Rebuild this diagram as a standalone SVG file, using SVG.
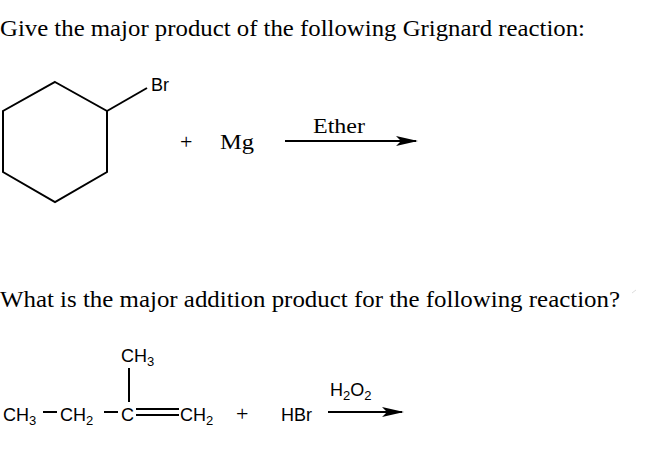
<svg xmlns="http://www.w3.org/2000/svg" width="652" height="475" viewBox="0 0 652 475">
<style>
.q{font-family:"Liberation Serif",serif;font-size:23px;fill:#000}
.s{font-family:"Liberation Sans",sans-serif;font-size:18px;fill:#000}
.r{font-family:"Liberation Serif",serif;font-size:22px;fill:#000}
.sub{font-size:13px}
line,polygon.b{stroke:#000;stroke-width:2;fill:none}
</style>
<defs><marker id="ah" markerWidth="22" markerHeight="10" refX="20" refY="5" orient="auto" markerUnits="userSpaceOnUse"><path d="M0,0 L22,5 L0,10 L5,5 Z" fill="#000"/></marker></defs>
<rect width="652" height="475" fill="#fff"/>
<text class="q" x="0" y="36" textLength="585" lengthAdjust="spacingAndGlyphs">Give the major product of the following Grignard reaction:</text>
<g id="cyclohexylbromide">
<polygon class="b" points="55,82 107,111 107,172 55,202 3,172 3,111"/>
<line x1="107" y1="111" x2="147" y2="88"/>
<text class="s" x="151" y="91">Br</text>
</g>
<g id="mg"><text class="r" x="180" y="149">+</text><text class="r" x="220" y="149" textLength="34" lengthAdjust="spacingAndGlyphs">Mg</text></g>
<g id="connectors">
<line x1="285" y1="141" x2="416" y2="141" marker-end="url(#ah)"/>
<line x1="328" y1="412" x2="402" y2="412" marker-end="url(#ah)"/>
</g>
<text class="r" x="313" y="133" textLength="52" lengthAdjust="spacingAndGlyphs">Ether</text>
<text class="q" x="0" y="307" textLength="620" lengthAdjust="spacingAndGlyphs">What is the major addition product for the following reaction?</text>
<line x1="632" y1="293" x2="636" y2="290" style="stroke:#ddd;stroke-width:1"/>
<g id="alkene">
<text class="s" x="121" y="362">CH<tspan class="sub" dy="4">3</tspan></text>
<line x1="129" y1="368" x2="129" y2="402"/>
<text class="s" x="3" y="421">CH<tspan class="sub" dy="4">3</tspan></text>
<line x1="43" y1="412" x2="57" y2="412"/>
<text class="s" x="60" y="421">CH<tspan class="sub" dy="4">2</tspan></text>
<line x1="104" y1="412" x2="118" y2="412"/>
<text class="s" x="121" y="421">C</text>
<line x1="136" y1="409" x2="179" y2="409"/>
<line x1="136" y1="415" x2="179" y2="415"/>
<text class="s" x="180" y="421">CH<tspan class="sub" dy="4">2</tspan></text>
</g>
<g id="hbr"><text class="r" x="236" y="421">+</text><text class="s" x="281" y="421">HBr</text></g>
<text class="s" x="330" y="396">H<tspan class="sub" dy="4">2</tspan><tspan dy="-4">O</tspan><tspan class="sub" dy="4">2</tspan></text>
</svg>
